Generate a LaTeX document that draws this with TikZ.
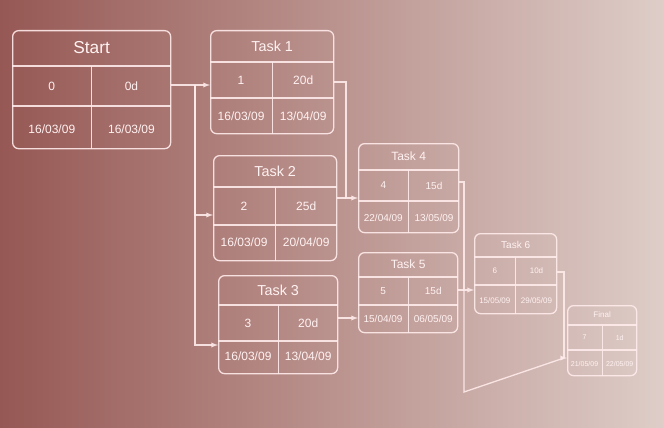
\documentclass[tikz,border=0pt]{standalone}
\usepackage{fontspec}
\setmainfont{Liberation Sans}
\usetikzlibrary{calc}
\begin{document}
\begin{tikzpicture}[x=1pt,y=-1pt,
  ln/.style={draw=white!92!red, line width=1.3pt, opacity=0.9},
  pbox/.style={ln, rounded corners=6pt, inner sep=0pt, anchor=north west},
  txt/.style={text=white!95!red, inner sep=0pt},
  conn/.style={ln, -latex}]
\shade[left color={rgb,255:red,150;green,88;blue,84}, right color={rgb,255:red,222;green,205;blue,200}] (0,0) rectangle (664,428);
\useasboundingbox (0,0) rectangle (664,428);
\newcommand\pb[9]{%
  \node[pbox, minimum width=#4pt, minimum height=#5pt] (#1) at (#2,#3) {};
  \draw[ln] ($(#1.north west)+(0,#6)$) -- ($(#1.north east)+(0,#6)$);
  \draw[ln] ($(#1.north west)+(0,#6+#7)$) -- ($(#1.north east)+(0,#6+#7)$);
  \draw[ln] ($(#1.north)+(0,#6)$) -- (#1.south);
  \node[txt,font=#9] at ($(#1.north)+(0,#6/2)$) {#8};}
\newcommand\cells[8]{%
  \node[txt,font=#8] at ($(#1.north)!0.5!(#1.north west)+(0,#2+#3/2)$) {#4};
  \node[txt,font=#8] at ($(#1.north)!0.5!(#1.north east)+(0,#2+#3/2)$) {#5};
  \node[txt,font=#8] at ($(#1.south)!0.5!(#1.south west)+(0,-#3/2)$) {#6};
  \node[txt,font=#8] at ($(#1.south)!0.5!(#1.south east)+(0,-#3/2)$) {#7};}
\pb{start}{12}{30}{158}{118}{36}{40}{Start}{\LARGE}
\cells{start}{36}{40}{0}{0d}{16/03/09}{16/03/09}{\large}
\pb{t1}{210}{30}{123}{103}{32}{36}{Task 1}{\Large}
\cells{t1}{32}{36}{1}{20d}{16/03/09}{13/04/09}{\large}
\pb{t2}{213}{155}{123}{105}{32}{38}{Task 2}{\Large}
\cells{t2}{32}{38}{2}{25d}{16/03/09}{20/04/09}{\large}
\pb{t3}{218}{275}{119}{98}{30}{36}{Task 3}{\Large}
\cells{t3}{30}{36}{3}{20d}{16/03/09}{13/04/09}{\large}
\pb{t4}{358}{143}{100}{89}{27}{31}{Task 4}{\large}
\cells{t4}{27}{31}{4}{15d}{22/04/09}{13/05/09}{\normalsize}
\pb{t5}{358}{252}{99}{80}{25}{28}{Task 5}{\large}
\cells{t5}{25}{28}{5}{15d}{15/04/09}{06/05/09}{\normalsize}
\pb{t6}{474}{233}{82}{80}{24}{28}{Task 6}{\normalsize}
\cells{t6}{24}{28}{6}{10d}{15/05/09}{29/05/09}{\footnotesize}
\pb{fin}{567}{305}{69}{70}{20}{25}{Final}{\footnotesize}
\cells{fin}{20}{25}{7}{1d}{21/05/09}{22/05/09}{\scriptsize}
\coordinate (s) at (195,85);
\draw[ln] (start.east|-s) -- (s);
\draw[conn] (s) -- (t1.west|-{0,85});
\draw[conn] (s) |- (t2.west|-{0,215});
\draw[conn] (s) |- (t3.west|-{0,345});
\coordinate (a4) at (346,198);
\draw[conn] (t1.east|-{0,82}) -| (a4) -- (t4.west|-a4);
\draw[ln] (t2.east|-{0,198}) -- (a4);
\draw[conn] (t3.east|-{0,318}) -- (t5.west|-{0,318});
\coordinate (a6) at (464,290);
\draw[conn] (t4.east|-{0,182}) -| (a6) -- (t6.west|-a6);
\draw[ln] (t5.east|-{0,290}) -- (a6);
\coordinate (b) at (464,392);
\coordinate (f) at (564,358);
\draw[ln] (a6) -- (b) -- (f);
\draw[ln] (t6.east|-{0,272}) -| (f);
\draw[conn] (f) -- (fin.west|-f);
\end{tikzpicture}
\end{document}
